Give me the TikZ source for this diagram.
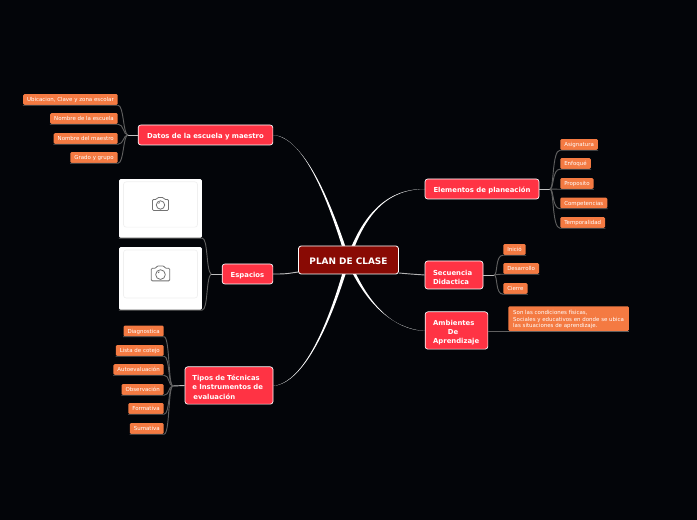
\documentclass[tikz,border=0pt]{standalone}
\usepackage{fontspec}
\setmainfont{DejaVu Sans}
\definecolor{canvasColor}{RGB}{3,5,9}
\definecolor{rootColor}{RGB}{137,10,4}
\definecolor{topicColor}{RGB}{255,51,68}
\definecolor{leafColor}{RGB}{244,122,66}
\definecolor{linkColor}{RGB}{95,95,95}
\tikzstyle{mindmap} = [x = .75pt, y = -.75pt]
\tikzstyle{oneLine} = [text height=5.4pt, text depth=0pt]
\tikzstyle{rootStyle} = [draw=white, fill=rootColor, text=white, rounded corners = 2pt, line width=.6pt, font=\fontsize{6.7}{8}\selectfont\bfseries, minimum width=75pt, minimum height=21pt, inner sep=0pt, text height=6.4pt, text depth=0pt]
\tikzstyle{topicStyle} = [draw=white, fill=topicColor, text=white, rounded corners = 2pt, line width=.5pt, font=\fontsize{5.15}{6.9}\selectfont\bfseries, inner sep=0pt, align=left]
\tikzstyle{leafBase} = [fill=leafColor, text=white, rounded corners = 1pt, font=\fontsize{4.1}{4.9}\selectfont, minimum height=8.2pt, inner sep=0pt, inner xsep=3pt, align=left]
\tikzstyle{leafStyle} = [leafBase, text height=3.6pt, text depth=0pt]
\tikzstyle{thinLink} = [color=linkColor, line width=.7pt]
\tikzstyle{stemLink} = [color=white!75!black, line width=.7pt]
\tikzstyle{pictureFrame} = [fill=white, rounded corners = 1pt, inner sep=0pt]
\tikzstyle{pictureInner} = [draw=black!6, fill=white, rounded corners = 2pt, line width=.5pt, inner sep=0pt]
\tikzstyle{cameraLine} = [draw=black!55, line width=.6pt, line join=round]
\newcommand{\topStrut}[1]{\rule{0pt}{#1}}
% tapered branch: #1 start, #2 and #3 controls, #4 end
\newcommand{\taperBranch}[4]{\fill [white] ($#1 + (1.9,0)$) .. controls ($#2 + (1.1,0)$) and ($#3 + (0,.4)$) .. #4 .. controls ($#3 + (0,-.4)$) and ($#2 + (-1.1,0)$) .. ($#1 + (-1.9,0)$) -- cycle;}
\newcommand{\leftLeaves}[3]{
  \foreach \leafName/\leafY/\leafText in {#3} {
    \node [leafStyle, anchor=east] (\leafName) at (#1,\leafY) {\leafText};
    \draw [thinLink] (\leafName.south west) -- (\leafName.south east) .. controls +(6,0) and ($(#2) + (-5,0)$) .. (#2);
  }
}
\newcommand{\rightLeaves}[3]{
  \foreach \leafName/\leafY/\leafText in {#3} {
    \node [leafStyle, anchor=west] (\leafName) at (#1,\leafY) {\leafText};
    \draw [thinLink] (\leafName.south east) -- (\leafName.south west) .. controls +(-8,0) and ($(#2) + (4,0)$) .. (#2);
  }
}
\newcommand{\cameraIcon}[2]{
  \begin{scope}[shift={(#1)}, scale=#2]
    \draw [cameraLine, rounded corners=.8pt] (-8,-5) -- (-4,-5) -- (-3,-7) -- (3,-7) -- (4,-5) -- (8,-5) -- (8,6) -- (-8,6) -- cycle;
    \draw [cameraLine] (0,.5) circle (4.2);
    \draw [cameraLine] (-2,-1) -- (-1,-2);
  \end{scope}
}
\usetikzlibrary{calc}
\begin{document}
\begin{tikzpicture}[mindmap]
  \fill [canvasColor] (0,0) rectangle (697,520);
  \useasboundingbox (0,0) rectangle (697,520);

  \coordinate (rootAnchor) at (348,260);
  \coordinate (datosEnd) at (273,135);
  \coordinate (tiposEnd) at (273,386);
  \coordinate (elementosEnd) at (425,189);
  \coordinate (ambientesEnd) at (425,331);
  \taperBranch{(rootAnchor)}{(331,205)}{(305,137)}{(datosEnd)}
  \taperBranch{(rootAnchor)}{(331,320)}{(305,383)}{(tiposEnd)}
  \taperBranch{(rootAnchor)}{(365,210)}{(390,189)}{(elementosEnd)}
  \taperBranch{(rootAnchor)}{(365,300)}{(390,329)}{(ambientesEnd)}

  \node [rootStyle] (planClase) at (348.5,260) {PLAN DE CLASE};

  \node [topicStyle, oneLine, minimum width=101pt, minimum height=15pt, align=center] (datos) at (205.5,135) {Datos de la escuela y maestro};
  \node [topicStyle, oneLine, minimum width=38pt, minimum height=15pt, align=center] (espacios) at (247.5,274) {Espacios};
  \node [topicStyle, minimum width=66pt, minimum height=28pt, text width=55pt] (tipos) at (229,385.5) {\topStrut{6.6pt}Tipos de Técnicas\\e Instrumentos de\\ \,evaluación};
  \node [topicStyle, minimum width=43.5pt, minimum height=21pt, text width=31.5pt] (secuencia) at (454,275) {\topStrut{7.5pt}Secuencia\\Didactica};
  \node [topicStyle, oneLine, minimum width=85.5pt, minimum height=15pt, align=center] (elementos) at (482,189) {Elementos de planeación};
  \node [topicStyle, minimum width=47pt, minimum height=28pt, text width=35pt] (ambientes) at (456.5,330.5) {\topStrut{7.5pt}Ambientes\\ \hspace*{11pt}De\\Aprendizaje};

  \draw [thinLink, color=white!70!black] (planClase.east |- 0,273) .. controls (410,274) .. (secuencia.west);
  \draw [stemLink] (planClase.west |- 0,272) .. controls (285,274) .. (espacios.east);

  \coordinate (datosJoint) at (128,135);
  \coordinate (tiposJoint) at (173,386);
  \coordinate (elementosJoint) at (550,189);
  \coordinate (secuenciaJoint) at (494,275);
  \draw [stemLink] (datos.west) -- (datosJoint);
  \draw [stemLink] (tipos.west) -- (tiposJoint);
  \draw [stemLink] (elementos.east) -- (elementosJoint);
  \draw [stemLink] (secuencia.east) -- (secuenciaJoint);

  \leftLeaves{118}{datosJoint}{ubicacion/99.5/{Ubicacion, Clave y zona escolar}, nombreEscuela/118.5/Nombre de la escuela, nombreMaestro/138.5/Nombre del maestro, gradoGrupo/157.5/Grado y grupo}
  \leftLeaves{164}{tiposJoint}{diagnostica/331/Diagnostica, listaCotejo/350.5/Lista de cotejo, autoevaluacion/369.5/Autoevaluación, observacion/389.5/Observación, formativa/408.5/Formativa, sumativa/428.5/Sumativa}
  \rightLeaves{560}{elementosJoint}{asignatura/144.5/Asignatura, enfoque/163.5/Enfoqué, proposito/183.5/Proposito, competencias/203/Competencias, temporalidad/222.5/Temporalidad}
  \rightLeaves{503}{secuenciaJoint}{inicio/249.5/Inició, desarrollo/268.5/Desarrollo, cierre/288.5/Cierre}

  \node [leafBase, anchor=north west, minimum width=90.5pt, minimum height=18.5pt] (condiciones) at (508,306) {\topStrut{4.6pt}Son las condiciones físicas,\\Sociales y educativos en donde se ubica\\las situaciones de aprendizaje.};
  \draw [thinLink] (condiciones.south east) -- (condiciones.south west) -- (ambientes.east |- condiciones.south);

  % picture placeholders
  \coordinate (espaciosJoint) at (211,274);
  \draw [stemLink] (espacios.west) -- (espaciosJoint);
  \node [pictureFrame, minimum width=62pt, minimum height=44pt] (fotoUno) at (160.5,208.5) {};
  \node [pictureFrame, minimum width=62pt, minimum height=47pt] (fotoDos) at (160.5,278.5) {};
  \node [pictureInner, minimum width=55.5pt, minimum height=34pt] (fotoUnoInner) at (160.5,204.5) {};
  \node [pictureInner, minimum width=55.5pt, minimum height=36pt] (fotoDosInner) at (160.5,274) {};
  \cameraIcon{fotoUnoInner.center}{1}
  \cameraIcon{fotoDosInner.center}{1.15}
  \draw [thinLink] (fotoUno.south west) -- (fotoUno.south east) .. controls +(6,0) and (206,270) .. (espaciosJoint);
  \draw [thinLink] (fotoDos.south west) -- (fotoDos.south east) .. controls +(6,0) and (206,278) .. (espaciosJoint);
\end{tikzpicture}
\end{document}
